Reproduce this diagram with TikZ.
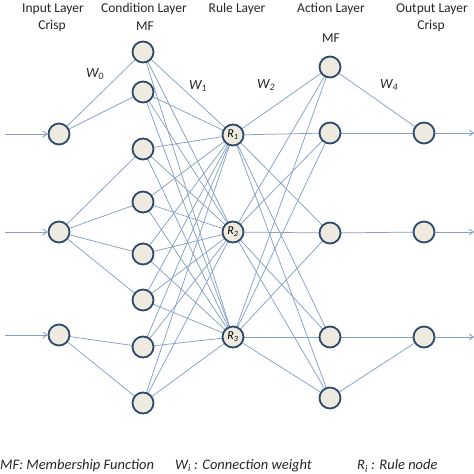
\documentclass[tikz,border=0pt]{standalone}
\usepackage{fontspec}
\setmainfont{Carlito}
\usetikzlibrary{arrows.meta}
\definecolor{edgecol}{HTML}{86A0C6}
\definecolor{nodeborder}{HTML}{2E4A6A}
\definecolor{nodefill}{HTML}{EEEAE0}
\tikzset{
  neuron/.style={circle, draw=nodeborder, fill=nodefill, line width=1.8pt, minimum size=21pt, inner sep=0pt, font=\fontsize{12}{12}\selectfont\itshape},
  conn/.style={draw=edgecol, line width=0.75pt},
  ioarrow/.style={draw=edgecol, line width=0.9pt, -{Straight Barb[length=4pt,width=6pt]}},
  hdr/.style={font=\fontsize{13.5}{13.5}\selectfont, text=black!85, inner sep=0pt},
  wlab/.style={font=\fontsize{14}{14}\selectfont\itshape, text=black!85, inner sep=0pt},
  foot/.style={font=\fontsize{14.5}{14.5}\selectfont\itshape, text=black!85, inner sep=0pt}
}
\begin{document}
\begin{tikzpicture}[x=1pt,y=-1pt]
\useasboundingbox (0,0) rectangle (474,474);
\coordinate (i1) at (59,134);
\coordinate (i2) at (59,232);
\coordinate (i3) at (59,335);
\coordinate (c1) at (143,52);
\coordinate (c2) at (143,92);
\coordinate (c3) at (143,149);
\coordinate (c4) at (143,202);
\coordinate (c5) at (143,254);
\coordinate (c6) at (143,300);
\coordinate (c7) at (143,347);
\coordinate (c8) at (143,403);
\coordinate (r1) at (233,135);
\coordinate (r2) at (233,232);
\coordinate (r3) at (233,337);
\coordinate (a1) at (330,67);
\coordinate (a2) at (330,133);
\coordinate (a3) at (330,233);
\coordinate (a4) at (330,337);
\coordinate (a5) at (330,398);
\coordinate (o1) at (424,133);
\coordinate (o2) at (424,232);
\coordinate (o3) at (424,337);
\coordinate (in1) at (5,134);
\coordinate (in2) at (5,232);
\coordinate (in3) at (5,335);
\coordinate (out1) at (474,133);
\coordinate (out2) at (474,232);
\coordinate (out3) at (474,337);
% input -> condition
\foreach \c in {c1,c2} \draw[conn] (i1) -- (\c);
\foreach \c in {c3,c4,c5,c6} \draw[conn] (i2) -- (\c);
\foreach \c in {c7,c8} \draw[conn] (i3) -- (\c);
% condition -> rule
\foreach \c in {c1,c2,c3,c4,c5,c6,c7,c8}
  \foreach \r in {r1,r2,r3} \draw[conn] (\c) -- (\r);
% rule -> action
\foreach \r in {r1,r2,r3}
  \foreach \a in {a1,a2,a3,a4,a5} \draw[conn] (\r) -- (\a);
% action -> output
\draw[conn] (a1) -- (o1);
\draw[conn] (a2) -- (o1);
\draw[conn] (a3) -- (o2);
\draw[conn] (a4) -- (o3);
\draw[conn] (a5) -- (o3);
% nodes
\foreach \n in {i1,i2,i3,c1,c2,c3,c4,c5,c6,c7,c8,a1,a2,a3,a4,a5,o1,o2,o3}
  \node[neuron] (N\n) at (\n) {};
\node[neuron] (Nr1) at (r1) {R\textsubscript{1}};
\node[neuron] (Nr2) at (r2) {R\textsubscript{2}};
\node[neuron] (Nr3) at (r3) {R\textsubscript{3}};
% io arrows
\draw[ioarrow] (in1) -- (Ni1);
\draw[ioarrow] (in2) -- (Ni2);
\draw[ioarrow] (in3) -- (Ni3);
\draw[ioarrow] (No1) -- (out1);
\draw[ioarrow] (No2) -- (out2);
\draw[ioarrow] (No3) -- (out3);
% headers
\node[hdr] (h1) at (53,9) {Input Layer};
\node[hdr] (h1b) at (52,26) {Crisp};
\node[hdr] (h2) at (144,9) {Condition Layer};
\node[hdr] (h2b) at (145,26) {MF};
\node[hdr] (h3) at (237,9) {Rule Layer};
\node[hdr] (h4) at (331,9) {Action Layer};
\node[hdr] (h4b) at (331,38) {MF};
\node[hdr] (h5) at (432,9) {Output Layer};
\node[hdr] (h5b) at (431,26) {Crisp};
% weight labels
\node[wlab] (w0) at (95,74) {W\textsubscript{0}};
\node[wlab] (w1) at (198,86) {W\textsubscript{1}};
\node[wlab] (w2) at (266,85) {W\textsubscript{2}};
\node[wlab] (w4) at (389,85) {W\textsubscript{4}};
% footer
\node[foot, anchor=west] (f1) at (0,466) {MF: Membership Function};
\node[foot, anchor=west] (f2) at (175,466) {W\textsubscript{i} : Connection weight};
\node[foot, anchor=west] (f3) at (357,466) {R\textsubscript{i} : Rule node};
\end{tikzpicture}
\end{document}
